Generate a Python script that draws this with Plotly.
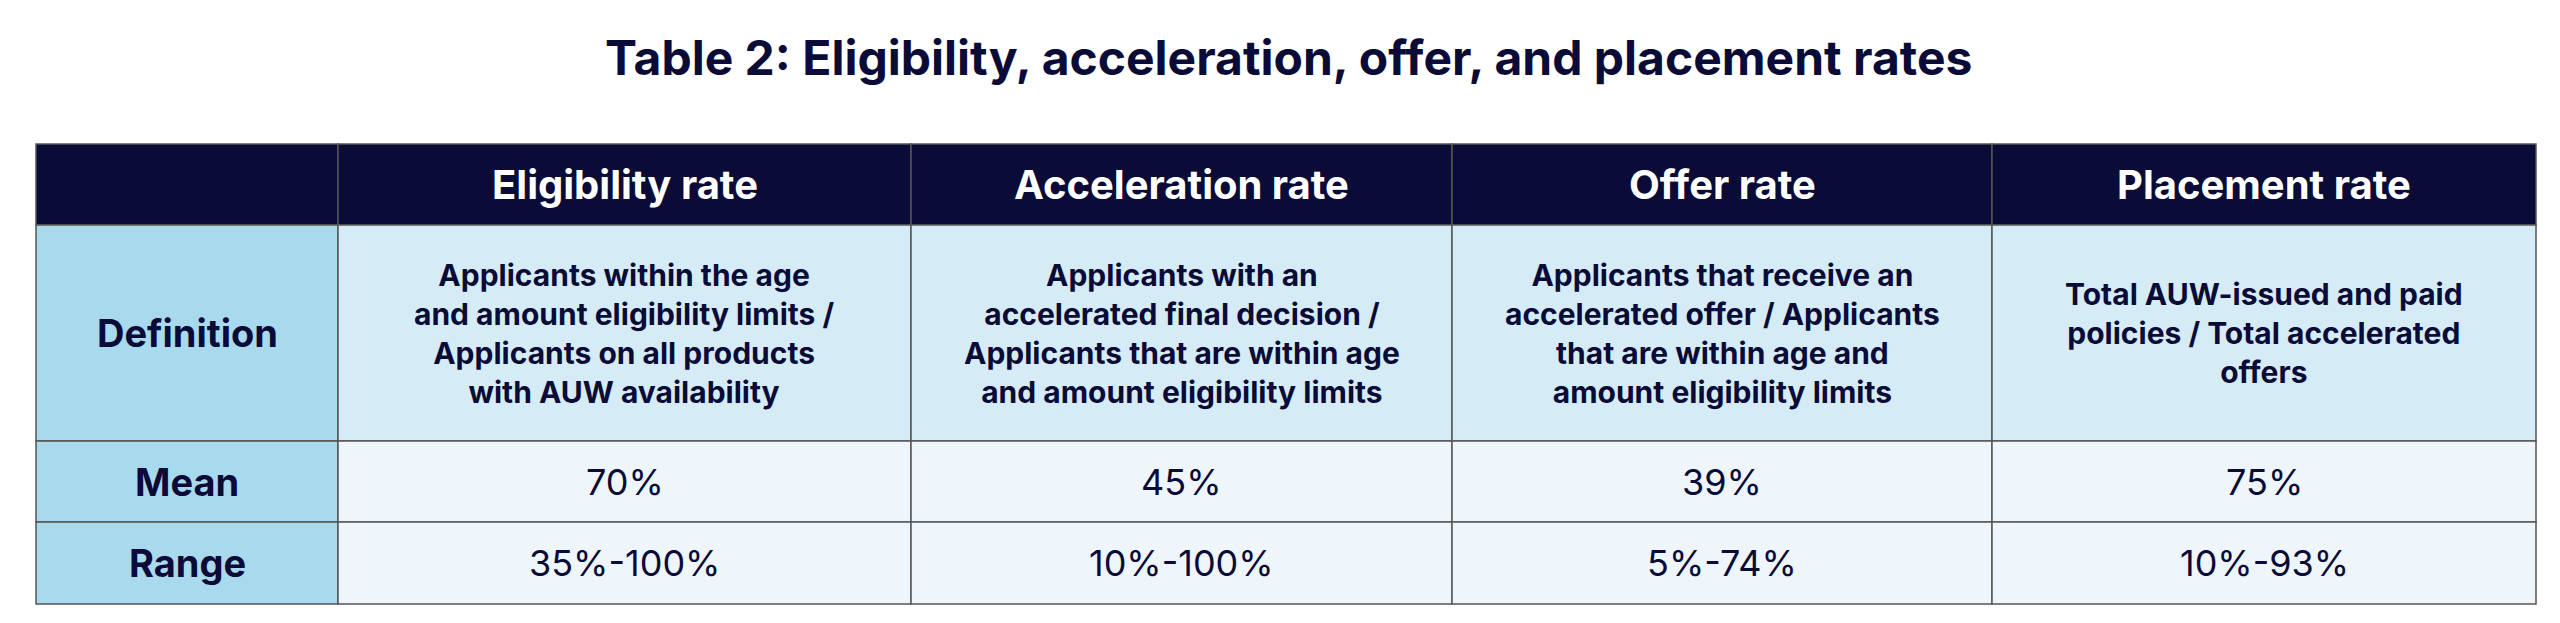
import plotly.graph_objects as go

title = "Table 2: Eligibility, acceleration, offer, and placement rates"
headers = ["", "Eligibility rate", "Acceleration rate", "Offer rate", "Placement rate"]
row_labels = ["Definition", "Mean", "Range"]
definitions = [
    "Applicants within the age<br>and amount eligibility limits /<br>Applicants on all products<br>with AUW availability",
    "Applicants with an<br>accelerated final decision /<br>Applicants that are within age<br>and amount eligibility limits",
    "Applicants that receive an<br>accelerated offer / Applicants<br>that are within age and<br>amount eligibility limits",
    "Total AUW-issued and paid<br>policies / Total accelerated<br>offers",
]
means = ["70%", "45%", "39%", "75%"]
ranges = ["35%-100%", "10%-100%", "5%-74%", "10%-93%"]

# layout (pixel grid)
col_edges = [28, 330, 903, 1444, 1984, 2528]
row_edges = [136, 217, 433, 514, 596]

NAVY = "#0b0b38"
LABEL_BG = "#a9d9ec"
DEF_BG = "#d5ebf5"
VAL_BG = "#eef6fb"
LINE = "#555555"
FONT = "Inter"

rows = [headers,
        [row_labels[0]] + definitions,
        [row_labels[1]] + means,
        [row_labels[2]] + ranges]

fig = go.Figure()
shapes, annots = [], []
for r, row in enumerate(rows):
    y0, y1 = row_edges[r], row_edges[r + 1]
    for c, txt in enumerate(row):
        x0, x1 = col_edges[c], col_edges[c + 1]
        if r == 0:
            fill, color, size, bold = NAVY, "white", 40, True
        elif c == 0:
            fill, color, size, bold = LABEL_BG, NAVY, 38, True
        elif r == 1:
            fill, color, size, bold = DEF_BG, NAVY, 30, True
        else:
            fill, color, size, bold = VAL_BG, NAVY, 36, False
        shapes.append(dict(type="rect", x0=x0, x1=x1, y0=y0, y1=y1, xref="x", yref="y",
                           fillcolor=fill, line=dict(color=LINE, width=1.5), layer="below"))
        if txt:
            t = "<br>".join("<b>%s</b>" % s for s in txt.split("<br>")) if bold else txt
            annots.append(dict(x=(x0 + x1) / 2, y=(y0 + y1) / 2, xref="x", yref="y", text=t,
                               showarrow=False, align="center", xanchor="center", yanchor="middle",
                               font=dict(color=color, size=size, family=FONT)))
annots.append(dict(x=1280, y=49, xref="x", yref="y", text="<b>%s</b>" % title, showarrow=False,
                   xanchor="center", yanchor="middle", font=dict(color=NAVY, size=48, family=FONT)))

fig.update_layout(
    width=2560, height=623, margin=dict(l=0, r=0, t=0, b=0),
    paper_bgcolor="white", plot_bgcolor="white",
    xaxis=dict(range=[0, 2560], visible=False, fixedrange=True),
    yaxis=dict(range=[623, 0], visible=False, fixedrange=True),
    shapes=shapes, annotations=annots, showlegend=False,
)
fig.write_html("out.html")
